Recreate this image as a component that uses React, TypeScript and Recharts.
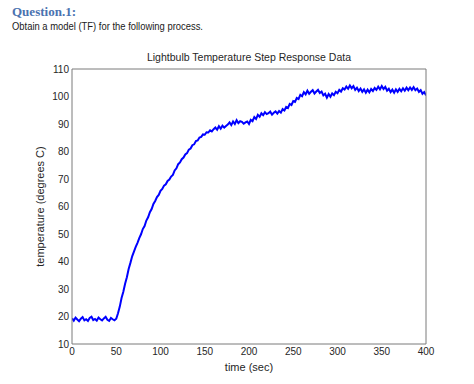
import React from 'react';
import { LineChart, Line, XAxis, YAxis } from 'recharts';

const times = [
  0, 2, 4, 6, 8, 10, 12, 14, 16, 18, 20, 22, 24, 26, 28, 30, 32, 34, 36, 38,
  40, 42, 44, 46, 48, 50, 52, 54, 56, 58, 60, 62, 64, 66, 68, 70, 72, 74, 76, 78,
  80, 82, 84, 86, 88, 90, 92, 94, 96, 98, 100, 102, 104, 106, 108, 110, 112, 114, 116, 118,
  120, 122, 124, 126, 128, 130, 132, 134, 136, 138, 140, 142, 144, 146, 148, 150, 152, 154, 156, 158,
  160, 162, 164, 166, 168, 170, 172, 174, 176, 178, 180, 182, 184, 186, 188, 190, 192, 194, 196, 198,
  200, 202, 204, 206, 208, 210, 212, 214, 216, 218, 220, 222, 224, 226, 228, 230, 232, 234, 236, 238,
  240, 242, 244, 246, 248, 250, 252, 254, 256, 258, 260, 262, 264, 266, 268, 270, 272, 274, 276, 278,
  280, 282, 284, 286, 288, 290, 292, 294, 296, 298, 300, 302, 304, 306, 308, 310, 312, 314, 316, 318,
  320, 322, 324, 326, 328, 330, 332, 334, 336, 338, 340, 342, 344, 346, 348, 350, 352, 354, 356, 358,
  360, 362, 364, 366, 368, 370, 372, 374, 376, 378, 380, 382, 384, 386, 388, 390, 392, 394, 396, 398,
  400,
];

const temps = [
  19.3, 18.5, 19.6, 18.9, 18.3, 19.2, 19.8, 18.6, 19.0, 18.4, 19.5, 19.9, 18.7, 19.1, 18.5, 19.6, 19.0, 18.6, 19.3, 19.9,
  18.8, 18.4, 19.5, 19.0, 18.6, 19.2, 21.2, 23.6, 26.7, 29.0, 31.9, 34.3, 37.3, 39.5, 41.9, 43.6, 45.3, 46.8, 48.5, 49.9,
  51.8, 52.9, 54.9, 56.1, 57.9, 59.1, 60.9, 62.0, 63.4, 64.2, 65.7, 66.4, 67.6, 68.1, 69.3, 69.8, 70.9, 71.5, 73.1, 73.9,
  75.4, 76.0, 77.2, 77.8, 78.9, 79.4, 80.7, 81.1, 82.3, 82.6, 83.8, 84.0, 85.1, 85.3, 86.2, 86.1, 87.0, 86.9, 87.7, 87.3,
  88.1, 88.7, 87.9, 89.2, 88.3, 89.4, 88.7, 89.3, 89.8, 90.6, 89.6, 90.9, 90.0, 91.4, 90.3, 91.0, 90.8, 90.1, 90.6, 90.9,
  90.0, 91.5, 91.0, 92.5, 91.8, 93.3, 92.6, 93.9, 93.2, 94.3, 93.6, 93.9, 94.5, 93.4, 94.1, 94.6, 93.8, 94.7, 94.1, 95.4,
  94.9, 96.2, 95.8, 97.3, 96.9, 98.3, 98.0, 99.5, 99.1, 100.6, 100.1, 101.6, 100.8, 102.1, 101.0, 101.7, 102.3, 101.1, 101.8, 102.4,
  101.3, 101.8, 100.4, 101.0, 99.6, 100.9, 99.9, 101.1, 100.5, 101.7, 101.2, 102.4, 101.8, 103.0, 102.5, 103.6, 102.8, 104.0, 103.0, 103.8,
  102.4, 103.2, 102.0, 102.9, 101.7, 102.6, 101.4, 102.5, 101.5, 102.7, 102.0, 103.1, 102.4, 103.6, 102.6, 103.8, 102.7, 103.5, 102.1, 102.8,
  101.6, 102.5, 101.4, 102.6, 101.7, 102.8, 101.9, 103.0, 102.1, 103.2, 102.3, 103.3, 102.4, 103.4, 102.3, 102.9, 101.7, 102.3, 101.0, 101.6,
  100.4,
];

const xTicks = [0, 50, 100, 150, 200, 250, 300, 350, 400];
const yTicks = [10, 20, 30, 40, 50, 60, 70, 80, 90, 100, 110];

const chartTitle = 'Lightbulb Temperature Step Response Data';
const xLabel = 'time (sec)';
const yLabel = 'temperature (degrees C)';
const heading = 'Question.1:';
const subHeading = 'Obtain a model (TF) for the following process.';

const data = times.map((t, i) => ({ t, v: temps[i] }));

const FONT = '"Liberation Sans", Arial, sans-serif';
const AXIS = '#7a7a7a';
const TEXT = '#262626';

export default function App() {
  return (
    <div style={{ position: 'absolute', left: 0, top: 0, width: 474, height: 384, background: '#fff' }}>
      <LineChart width={474} height={384} data={data} margin={{ top: 69, right: 48, bottom: 13, left: 32 }}>
        <XAxis
          xAxisId="b"
          dataKey="t"
          type="number"
          domain={[0, 400]}
          allowDataOverflow
          ticks={xTicks}
          tickLine={false}
          tickSize={0}
          tickMargin={4}
          height={27}
          axisLine={{ stroke: AXIS }}
          tick={{ fill: TEXT, fontSize: 10, fontFamily: FONT }}
          label={{ value: xLabel, position: 'insideBottom', offset: 0, fill: TEXT, fontSize: 11, fontFamily: FONT }}
        />
        <XAxis
          xAxisId="bm"
          dataKey="t"
          type="number"
          domain={[0, 400]}
          allowDataOverflow
          ticks={xTicks}
          mirror
          tick={false}
          tickSize={4}
          axisLine={false}
          tickLine={{ stroke: AXIS }}
        />
        <XAxis
          xAxisId="tm"
          orientation="top"
          dataKey="t"
          type="number"
          domain={[0, 400]}
          allowDataOverflow
          ticks={xTicks}
          mirror
          tick={false}
          tickSize={4}
          axisLine={{ stroke: AXIS }}
          tickLine={{ stroke: AXIS }}
        />
        <YAxis
          yAxisId="l"
          type="number"
          domain={[10, 110]}
          allowDataOverflow
          ticks={yTicks}
          width={40}
          tickLine={false}
          tickSize={0}
          tickMargin={3}
          axisLine={{ stroke: AXIS }}
          tick={{ fill: TEXT, fontSize: 10, fontFamily: FONT }}
          label={{
            value: yLabel,
            angle: -90,
            position: 'insideLeft',
            offset: 8,
            fill: TEXT,
            fontSize: 11,
            fontFamily: FONT,
            style: { textAnchor: 'middle' },
          }}
        />
        <YAxis
          yAxisId="lm"
          type="number"
          domain={[10, 110]}
          allowDataOverflow
          ticks={yTicks}
          mirror
          tick={false}
          tickSize={4}
          axisLine={false}
          tickLine={{ stroke: AXIS }}
        />
        <YAxis
          yAxisId="rm"
          orientation="right"
          type="number"
          domain={[10, 110]}
          allowDataOverflow
          ticks={yTicks}
          mirror
          tick={false}
          tickSize={4}
          axisLine={{ stroke: AXIS }}
          tickLine={{ stroke: AXIS }}
        />
        <Line
          xAxisId="b"
          yAxisId="l"
          type="linear"
          dataKey="v"
          stroke="#0000ff"
          strokeWidth={2}
          strokeLinejoin="miter"
          dot={false}
          isAnimationActive={false}
        />
      </LineChart>
      <svg
        width={474}
        height={384}
        style={{ position: 'absolute', left: 0, top: 0, pointerEvents: 'none' }}
      >
        <text x={12} y={16} fontFamily='"Liberation Serif", "DejaVu Serif", serif' fontWeight="bold" fontSize={13.5} fill="#4a72b0" textLength={64} lengthAdjust="spacingAndGlyphs">
          {heading}
        </text>
        <text x={12} y={30} fontFamily={FONT} fontSize={10} fill="#1a1a1a" textLength={191} lengthAdjust="spacingAndGlyphs">
          {subHeading}
        </text>
        <text x={249} y={61} textAnchor="middle" fontFamily={FONT} fontSize={10.5} fill={TEXT}>
          {chartTitle}
        </text>
      </svg>
    </div>
  );
}
